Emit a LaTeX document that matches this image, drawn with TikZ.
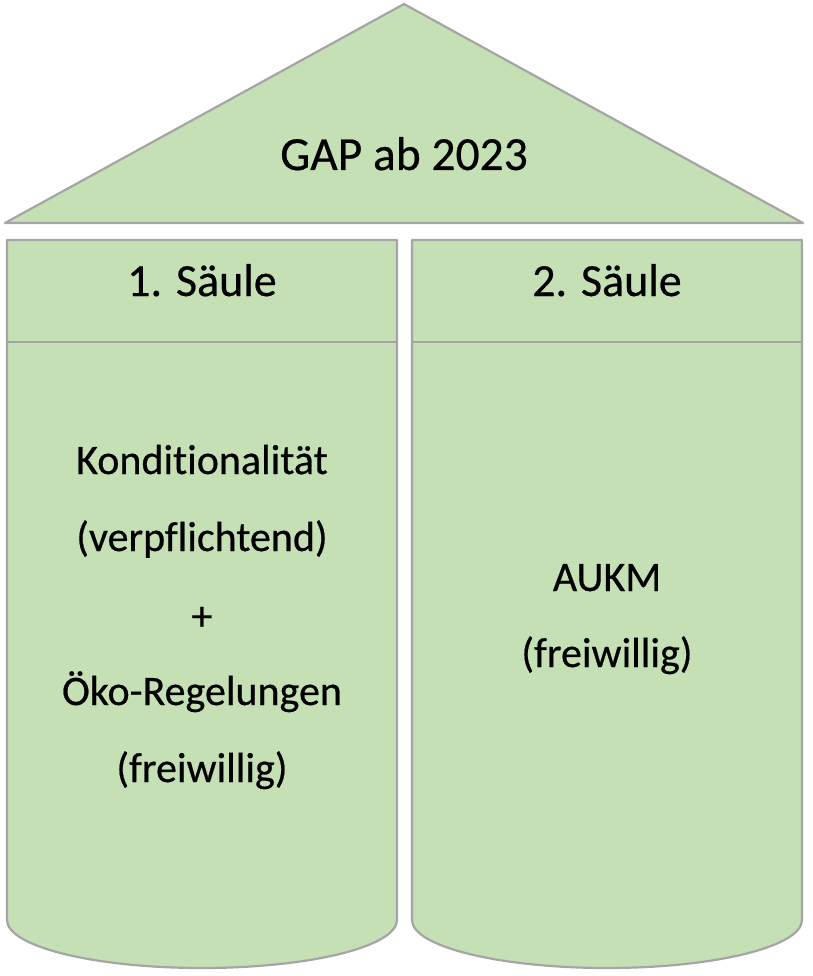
\documentclass[tikz,border=0pt]{standalone}
\usepackage{fontspec}
\setmainfont{Carlito}[FakeBold=0.5,Ligatures=NoCommon]
\definecolor{pillarfill}{HTML}{C5E0B4}
\definecolor{pillarline}{HTML}{A5A5A5}
\tikzset{
  shapebox/.style={fill=pillarfill,draw=pillarline,line width=2.2pt,line join=round},
  headtext/.style={anchor=base,inner sep=0pt,font=\fontsize{46}{50}\selectfont},
  rooftext/.style={anchor=base,inner sep=0pt,font=\fontsize{47.5}{52}\selectfont},
  bodytext/.style={anchor=base,inner sep=0pt,font=\fontsize{42}{46}\selectfont}
}
\begin{document}
\begin{tikzpicture}[x=1pt,y=1pt]
\useasboundingbox (0,0) rectangle (812,-976);
% roof
\draw[shapebox] (5,-223) -- (404,-4) -- (803,-223) -- cycle;
% left pillar
\draw[shapebox] (7,-920) -- (7,-240) -- (397,-240) -- (397,-920)
  arc[start angle=0,end angle=-180,x radius=195pt,y radius=48pt] -- cycle;
\draw[shapebox] (7,-342) -- (397,-342);
% right pillar
\draw[shapebox] (412,-920) -- (412,-240) -- (802,-240) -- (802,-920)
  arc[start angle=0,end angle=-180,x radius=195pt,y radius=48pt] -- cycle;
\draw[shapebox] (412,-342) -- (802,-342);
% texts
\node[rooftext] (gap) at (404,-170) {GAP ab 2023};
\node[headtext] (s1) at (202,-296) {1. Säule};
\node[headtext] (s2) at (607,-296) {2. Säule};
\node[bodytext] (k1) at (202,-474) {Konditionalität};
\node[bodytext] (k2) at (202,-551) {(verpflichtend)};
\node[bodytext] (k3) at (202,-630) {+};
\node[bodytext] (k4) at (202,-705) {Öko-Regelungen};
\node[bodytext] (k5) at (202,-782) {(freiwillig)};
\node[bodytext] (a1) at (607,-591) {AUKM};
\node[bodytext] (a2) at (607,-667) {(freiwillig)};
\end{tikzpicture}
\end{document}
